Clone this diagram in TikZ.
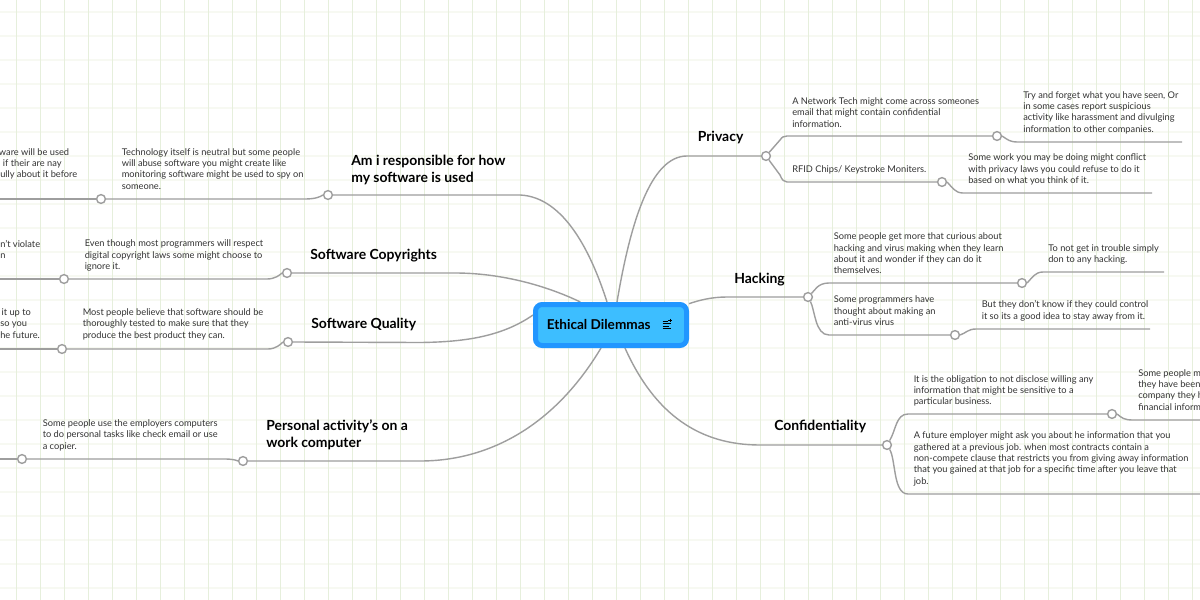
\documentclass[tikz,border=0pt]{standalone}
\usepackage{fontspec}
\usetikzlibrary{backgrounds}
\setmainfont{Lato}
\definecolor{gridc}{HTML}{E6EFDC}
\definecolor{gridh}{HTML}{F7F9F2}
\definecolor{linec}{HTML}{9E9E9E}
\definecolor{txt}{HTML}{333333}
\definecolor{rootb}{HTML}{2196FF}
\definecolor{rootf}{HTML}{3DBEFF}
\tikzset{
  x=0.75pt,y=-0.75pt,
  dot/.style={circle,draw=linec,fill=white,line width=1.05pt,minimum size=6.6pt,inner sep=0pt},
  conn/.style={draw=linec,line width=1.05pt},
  leaf/.style={anchor=north west,inner sep=0pt,text=txt,font=\fontsize{6.95pt}{8.5pt}\selectfont,align=left},
  topic/.style={anchor=north west,inner sep=0pt,text=black,font=\fontsize{10.45pt}{12.9pt}\selectfont\bfseries,align=left},
  rootbox/.style={draw=rootb,fill=rootf,line width=3.75pt,rounded corners=5pt,minimum width=113.25pt,minimum height=30.75pt,inner sep=0pt},
}
\begin{document}
\begin{tikzpicture}
\useasboundingbox (0,0) rectangle (1200,600);
\clip (0,0) rectangle (1200,600);
\begin{scope}[on background layer]
\fill[white] (0,0) rectangle (1200,600);
\foreach \i in {0,...,24} {\draw[gridh,line width=1.1pt] (0,{\i*24+12}) -- (1200,{\i*24+12});}
\foreach \i in {0,...,49} {\draw[gridc,line width=0.75pt] ({\i*24+16.5},0) -- ({\i*24+16.5},600);}
\end{scope}

\coordinate (e1) at (0,199);
\coordinate (e2) at (0,279);
\coordinate (e3) at (0,349);
\coordinate (e4) at (0,459);
\coordinate (e5) at (1182,142);
\coordinate (e6) at (1152,193);
\coordinate (e7) at (1164,272);
\coordinate (e8) at (1150,329);
\coordinate (e9) at (1200,420);
\coordinate (e10) at (1200,494);

\node[rootbox] (root) at (611,325) {};
\node[inner sep=0pt,anchor=west,font=\fontsize{10.2pt}{12pt}\selectfont\bfseries] (roott) at (546.5,324.5) {Ethical Dilemmas};

\foreach \n/\x/\y in {a/328/195,a1/101/199,b/287/273,b1/64/279,c/288/342,c1/62/349,d/243/461,d1/22/459,
  p/766/156,p1/997/136,p2/942/182,h/808/297,h1/1022/283,h2/955/335,k/887/445,k1/1112/414}
  {\node[dot] (\n) at (\x,\y) {};}

\begin{scope}[on background layer]
\draw[conn] (a.east) -- (520,195) .. controls (565,197) and (592,255) .. ([xshift=-3pt]root.north);
\draw[conn] (b.east) -- (455,273) .. controls (500,273) and (545,285) .. ([xshift=-23pt]root.north);
\draw[conn] (c.east) -- (420,342.5) .. controls (460,342) and (500,338) .. ([yshift=7.5pt]root.west);
\draw[conn] (d.east) -- (420,461) .. controls (490,461) and (555,425) .. ([xshift=-7.5pt]root.south);
\draw[conn] (p.west) -- (687,156) .. controls (650,156) and (630,225) .. ([xshift=4.5pt]root.north);
\draw[conn] (h.west) -- (727,297) .. controls (712,297) and (700,300) .. ([yshift=16pt]root.east);
\draw[conn] (k.west) -- (760,445) .. controls (700,445) and (655,415) .. ([xshift=10.5pt]root.south);
\draw[conn] (a.west) .. controls (320,197) and (315,199) .. (305,199) -- (a1.east);
\draw[conn] (a1.west) -- (e1);
\draw[conn] (b.west) .. controls (280,275) and (275,279) .. (267,279) -- (b1.east);
\draw[conn] (b1.west) -- (e2);
\draw[conn] (c.west) .. controls (281,344) and (276,349) .. (268,349) -- (c1.east);
\draw[conn] (c1.west) -- (e3);
\draw[conn] (d.west) .. controls (236,460) and (232,459) .. (224,459) -- (d1.east);
\draw[conn] (d1.west) -- (e4);
\draw[conn] (p) -- (780,140) .. controls (782,137) and (784,136) .. (787,136) -- (p1.west);
\draw[conn] (p) -- (780,175) .. controls (782,180) and (784,182) .. (787,182) -- (p2.west);
\draw[conn] (p1.east) .. controls (1008,140) and (1010,142) .. (1018,142) -- (e5);
\draw[conn] (p2.east) .. controls (952,187) and (955,193) .. (963,193) -- (e6);
\draw[conn] (h) .. controls (815,290) and (818,283) .. (829,283) -- (h1.west);
\draw[conn] (h) .. controls (815,310) and (815,335) .. (829,335) -- (h2.west);
\draw[conn] (h1.east) .. controls (1032,278) and (1035,272) .. (1043,272) -- (e7);
\draw[conn] (h2.east) .. controls (966,333) and (968,329) .. (976,329) -- (e8);
\draw[conn] (k) .. controls (896,430) and (896,414) .. (908,414) -- (k1.west);
\draw[conn] (k) .. controls (896,460) and (893,494) .. (908,494) -- (e10);
\draw[conn] (k1.east) .. controls (1122,418) and (1124,420) .. (1133,420) -- (e9);
\end{scope}

% outline icon
\foreach \yy/\xa in {321/668,323.5/671,326/669,328.3/671}{\draw[black,line width=0.6pt] (662.5,\yy) -- (\xa,\yy);}
\draw[black,line width=0.5pt] (670,318.5) -- (670,322) (668.3,320.2) -- (671.8,320.2);

\node[topic] (t1) at (351,154.7) {Am i responsible for how\\my software is used};
\node[topic] (t2) at (310,248.7) {Software Copyrights};
\node[topic] (t3) at (311,317.5) {Software Quality};
\node[topic] (t4) at (266,419.3) {Personal activity's on a\\work computer};
\node[topic] (t5) at (697.5,131) {Privacy};
\node[topic] (t6) at (734,272.7) {Hacking};
\node[topic] (t7) at (774,420) {Confidentiality};

\node[leaf] at (0,148) {\hspace*{-1pt}ware will be used\\\hspace*{2pt}if their are nay\\ully about it before};
\node[leaf] at (121.5,148) {Technology itself is neutral but some people\\will abuse software you might create like\\monitoring software might be used to spy on\\someone.};
\node[leaf] at (0,239.7) {n't violate\\n};
\node[leaf] at (84.5,239.7) {Even though most programmers will respect\\digital copyright laws some might choose to\\ignore it.};
\node[leaf] at (0,308.5) {\hspace*{1pt}it up to\\so you\\he future.};
\node[leaf] at (82.5,308.5) {Most people believe that software should be\\thoroughly tested to make sure that they\\produce the best product they can.};
\node[leaf] at (42.5,419.5) {Some people use the employers computers\\to do personal tasks like check email or use\\a copier.};
\node[leaf] at (792,97.5) {A Network Tech might come across someones\\email that might contain confidential\\information.};
\node[leaf] at (792,165.5) {RFID Chips/ Keystroke Moniters.};
\node[leaf] at (1023,91) {Try and forget what you have seen, Or\\in some cases report suspicious\\activity like harassment and divulging\\information to other companies.};
\node[leaf] at (968,153.7) {Some work you may be doing might conflict\\with privacy laws you could refuse to do it\\based on what you think of it.};
\node[leaf] at (833.5,232.7) {Some people get more that curious about\\hacking and virus making when they learn\\about it and wonder if they can do it\\themselves.};
\node[leaf] at (833.5,295.7) {Some programmers have\\thought about making an\\anti-virus virus};
\node[leaf] at (1048,244.5) {To not get in trouble simply\\don to any hacking.};
\node[leaf] at (981.5,300.5) {But they don't know if they could control\\it so its a good idea to stay away from it.};
\node[leaf] at (913.5,375.2) {It is the obligation to not disclose willing any\\information that might be sensitive to a\\particular business.};
\node[leaf] at (913.5,431.7) {A future employer might ask you about he information that you\\gathered at a previous job. when most contracts contain a\\non-compete clause that restricts you from giving away information\\that you gained at that job for a specific time after you leave that\\job.};
\node[leaf] at (1138,369) {Some people m\\they have been\\company they h\\financial inform};
\end{tikzpicture}
\end{document}
